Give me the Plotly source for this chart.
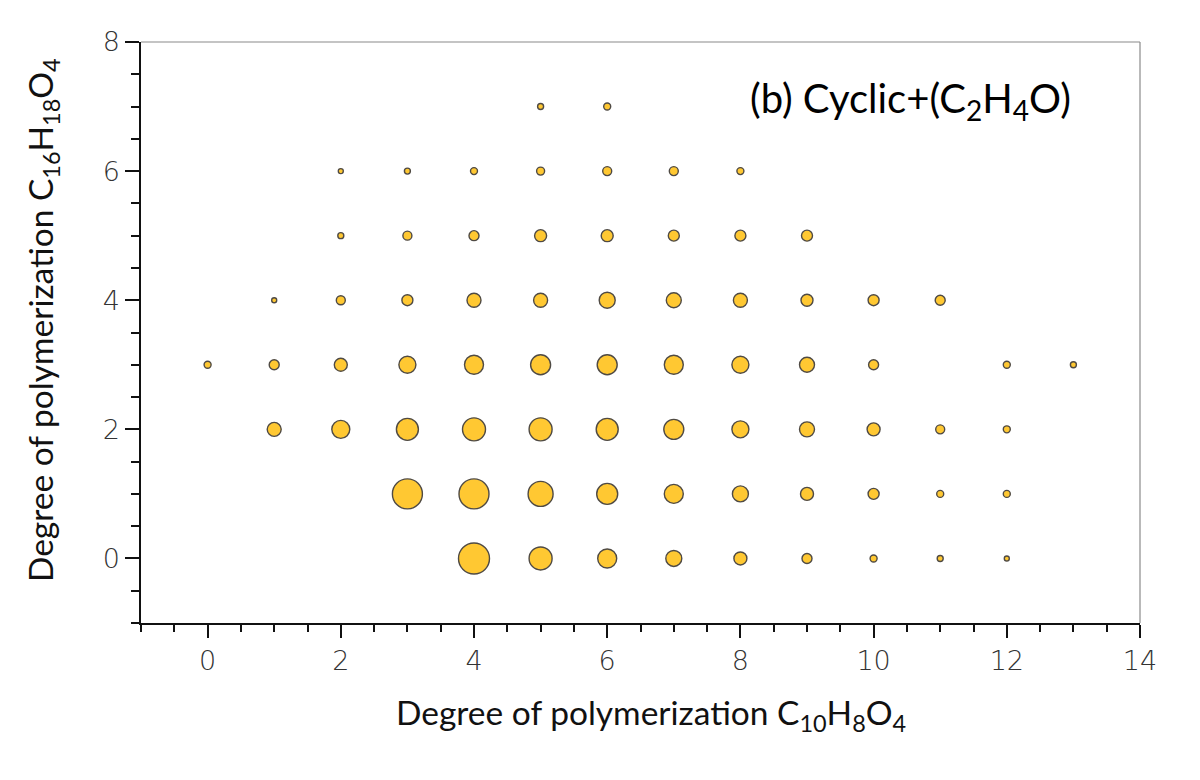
import plotly.graph_objects as go

# Degree of polymerization C16H18O4 (rows) -> C10H8O4 positions and bubble diameters (px)
row_y = [0, 1, 2, 3, 4, 5, 6, 7]
row_x = [
    [4, 5, 6, 7, 8, 9, 10, 11, 12],
    [3, 4, 5, 6, 7, 8, 9, 10, 11, 12],
    [1, 2, 3, 4, 5, 6, 7, 8, 9, 10, 11, 12],
    [0, 1, 2, 3, 4, 5, 6, 7, 8, 9, 10, 12, 13],
    [1, 2, 3, 4, 5, 6, 7, 8, 9, 10, 11],
    [2, 3, 4, 5, 6, 7, 8, 9],
    [2, 3, 4, 5, 6, 7, 8],
    [5, 6],
]
row_size = [
    [32, 24, 20, 17, 14, 11, 8, 7, 6],
    [31, 31, 26, 22, 20, 17, 14, 12, 8, 8],
    [15, 19, 23, 24, 24, 23, 21, 18, 16, 14, 10, 8],
    [8, 11, 14, 18, 20, 21, 21, 20, 18, 16, 11, 8, 7],
    [6, 10, 12, 15, 15, 17, 16, 15, 13, 12, 11],
    [7, 10, 11, 13, 13, 12, 12, 12],
    [6, 7, 8, 9, 10, 10, 8],
    [7, 8],
]

xs, ys, ss = [], [], []
for yv, xl, sl in zip(row_y, row_x, row_size):
    for xv, sv in zip(xl, sl):
        xs.append(xv)
        ys.append(yv)
        ss.append(sv - 1.0)

fig = go.Figure()
fig.add_trace(go.Scatter(
    x=xs, y=ys, mode="markers",
    marker=dict(size=ss, sizemode="diameter", color="#FFC832", opacity=1,
                line=dict(color="#4f4a44", width=1.4)),
    hoverinfo="x+y",
    showlegend=False,
))

tickfont = dict(family="DejaVu Sans", size=27, color="#333333", weight=200)
lab_font = dict(family="Lato", size=33.5, color="#111111")

fig.update_xaxes(
    range=[-1, 14], tickmode="linear", tick0=0, dtick=2,
    ticks="outside", ticklen=13, tickwidth=1.5, tickcolor="#111",
    minor=dict(dtick=0.5, tick0=0, ticks="outside", ticklen=7, tickwidth=1.5, tickcolor="#111"),
    showline=True, linecolor="#111", linewidth=1.5,
    showgrid=False, zeroline=False, tickfont=tickfont,
)
fig.update_yaxes(
    range=[-1, 8], tickmode="linear", tick0=0, dtick=2,
    ticks="outside", ticklen=14, tickwidth=1.5, tickcolor="#111",
    minor=dict(dtick=0.5, tick0=0, ticks="outside", ticklen=8, tickwidth=1.5, tickcolor="#111"),
    showline=True, linecolor="#111", linewidth=1.5,
    showgrid=False, zeroline=False, tickfont=tickfont,
)

# top and right gray frame
fig.add_shape(type="line", xref="paper", yref="paper", x0=0, x1=1, y0=1, y1=1,
              line=dict(color="#8a8a8a", width=1.2))
fig.add_shape(type="line", xref="paper", yref="paper", x0=1, x1=1, y0=0, y1=1,
              line=dict(color="#8a8a8a", width=1.2))

fig.add_annotation(text="Degree of polymerization C<sub>10</sub>H<sub>8</sub>O<sub>4</sub>",
                   xref="paper", yref="paper", x=0.5105, y=-0.158,
                   xanchor="center", yanchor="middle", showarrow=False, font=lab_font)
fig.add_annotation(text="Degree of polymerization C<sub>16</sub>H<sub>18</sub>O<sub>4</sub>",
                   xref="paper", yref="paper", x=-0.099, y=0.5215, textangle=-90,
                   xanchor="center", yanchor="middle", showarrow=False, font=lab_font)
fig.add_annotation(text="(b) Cyclic+(C<sub>2</sub>H<sub>4</sub>O)",
                   xref="paper", yref="paper", x=0.77, y=0.90,
                   xanchor="center", yanchor="middle", showarrow=False,
                   font=dict(family="Lato", size=40, color="#000"))

fig.update_layout(
    width=1200, height=780,
    margin=dict(l=141, r=60, t=42, b=157),
    paper_bgcolor="white", plot_bgcolor="white",
)

fig.write_html("out.html")
